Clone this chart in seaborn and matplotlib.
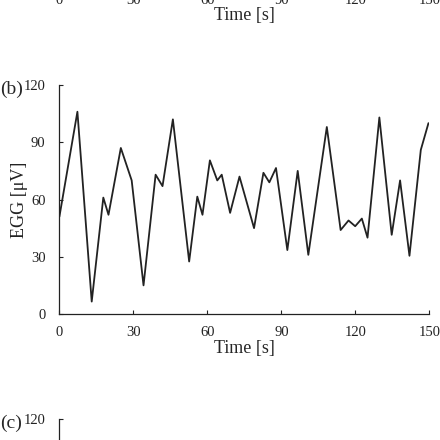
import matplotlib
matplotlib.use("Agg")
import matplotlib.pyplot as plt
import seaborn as sns
import pandas as pd

sns.set_style("ticks")
plt.rcParams['font.family'] = ['Liberation Serif', 'DejaVu Serif']

time_s = [0, 7.3, 13.1, 17.8, 19.9, 24.9, 29.3, 34.1, 39, 41.8, 46, 52.6, 55.9, 58,
          61, 64, 65.8, 69.2, 73, 78.9, 82.7, 85.1, 87.8, 92.4, 96.6, 100.9, 108.4,
          114, 117.2, 119.9, 122.6, 124.9, 129.7, 134.7, 138.1, 141.9, 146.5, 149.6]
egg_uv = [51, 106, 6.5, 61, 52, 87, 70, 15, 73, 67, 102, 27.5, 61.5, 52,
          80.5, 70, 73, 53, 72, 45, 74, 69, 76.5, 33.5, 75, 31, 98,
          44, 49, 46, 50, 40, 103, 41.5, 70, 30.5, 86, 100]
xticks = [0, 30, 60, 90, 120, 150]
yticks = [0, 30, 60, 90, 120]

df = pd.DataFrame({"t": time_s, "v": egg_uv})
fig = plt.figure(figsize=(4.4, 4.4), dpi=100)
fs = 10.5
lfs = 13

def style(ax):
    sns.despine(ax=ax)
    ax.set_xlim(0, 150); ax.set_ylim(0, 120)
    ax.set_xticks(xticks); ax.set_yticks(yticks)
    ax.tick_params(direction="in", labelsize=fs, length=3, color="#222",
                   labelcolor="#222")
    ax.tick_params(axis="x", pad=9)
    ax.tick_params(axis="y", pad=10)
    ax.set_ylabel("")
    for s in ax.spines.values():
        s.set_linewidth(0.9); s.set_color("#222")

ax0 = fig.add_axes([0.135, 1 + 18/440, 0.841, 0.3])
style(ax0)
ax0.set_xlabel("Time [s]", fontsize=lfs, labelpad=0)

ax = fig.add_axes([0.135, 1 - 314/440, 0.841, 229/440])
sns.lineplot(data=df, x="t", y="v", ax=ax, color="#222", linewidth=1.3)
style(ax)
ax.set_xlabel("Time [s]", fontsize=lfs, labelpad=0)
ax.set_ylabel("")
fig.text(0.045, 1 - 200/440, "EGG [μV]", fontsize=lfs, rotation=90,
         ha="center", va="center", color="#222")
fig.text(0.0, 1 - 89/440, "(b)", fontsize=lfs + 1, va="center")

ax2 = fig.add_axes([0.135, 1 - 419/440 - 229/440, 0.841, 229/440])
style(ax2)
ax2.set_xlabel("")
fig.text(0.0, 1 - 423/440, "(c)", fontsize=lfs + 1, va="center")

fig.savefig("out.png", dpi=100)
